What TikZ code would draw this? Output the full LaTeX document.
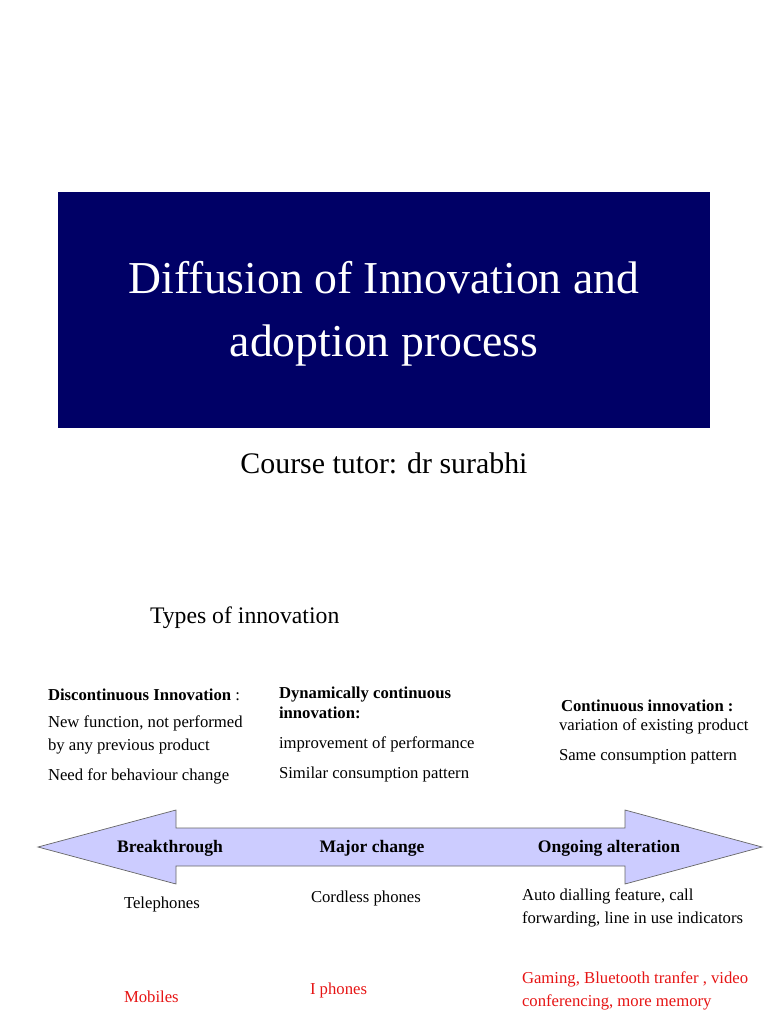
\documentclass[tikz,border=0pt]{standalone}
\usepackage{fontspec}
\setmainfont{Liberation Serif}
\usetikzlibrary{positioning}
\definecolor{navy}{RGB}{0,0,102}
\definecolor{lilac}{RGB}{204,204,255}
\definecolor{redtext}{RGB}{230,20,20}

\begin{document}
\begin{tikzpicture}[x=0.02cm,y=-0.02cm,
	  every node/.style={inner sep=0pt,outer sep=0pt},
	  head/.style={font=\fontsize{9.5}{11.5}\selectfont\bfseries,anchor=west,align=left},
	  item/.style={font=\fontsize{9.5}{13}\selectfont,anchor=west,align=left},
	  example/.style={font=\fontsize{9.5}{13}\selectfont,anchor=west,align=left},
	  redexample/.style={example,text=redtext},
	  stage/.style={font=\fontsize{10}{12}\selectfont\bfseries}]

	  \useasboundingbox (0,0) rectangle (768,1024);

	  % title block
	  \fill[navy] (58,192) rectangle (710,428);
	  \node[text=white,align=center,font=\fontsize{26}{36}\selectfont] (title) at (384,314) {Diffusion of Innovation and\\adoption process};
	  \node[font=\fontsize{17}{20}\selectfont] (tutor) at (384,463) {Course tutor: dr surabhi};
	  \node[font=\fontsize{13.5}{16}\selectfont,anchor=west] (types) at (150,618) {Types of innovation};

	  % three kinds of innovation
	  \node[head] (dischead) at (48,695) {Discontinuous Innovation \textmd{:}};
	  \node[item] (discone) at (48,735) {New function, not performed\\by any previous product};
	  \node[item] (disctwo) at (48,776) {Need for behaviour change};

	  \node[head] (dynhead) at (279,703) {Dynamically continuous\\innovation:};
	  \node[item] (dynone) at (279,744) {improvement of performance};
	  \node[item] (dyntwo) at (279,774) {Similar consumption pattern};

	  \node[head] (conthead) at (561,706) {Continuous innovation :};
	  \node[item] (contone) at (559,726) {variation of existing product};
	  \node[item] (conttwo) at (559,757) {Same consumption pattern};

	  % double arrow
	  \draw[fill=lilac,draw=black!60] (38,847) -- (176,810) -- (176,828) -- (625,828) -- (625,810)
	    -- (762,847) -- (625,884) -- (625,866) -- (176,866) -- (176,884) -- cycle;
	  \node[stage] (breakthrough) at (170,848) {Breakthrough};
	  \node[stage] (major) at (372,848) {Major change};
	  \node[stage] (ongoing) at (609,848) {Ongoing alteration};

	  % examples
	  \node[example] (telephones) at (124,904) {Telephones};
	  \node[example] (cordless) at (311,898) {Cordless phones};
	  \node[example] (autodial) at (522,908) {Auto dialling feature, call\\forwarding, line in use indicators};

	  \node[redexample] (mobiles) at (124,997) {Mobiles};
	  \node[redexample] (iphones) at (310,990) {I phones};
	  \node[redexample] (gaming) at (522,991) {Gaming, Bluetooth tranfer , video\\conferencing, more memory};

\end{tikzpicture}
\end{document}
